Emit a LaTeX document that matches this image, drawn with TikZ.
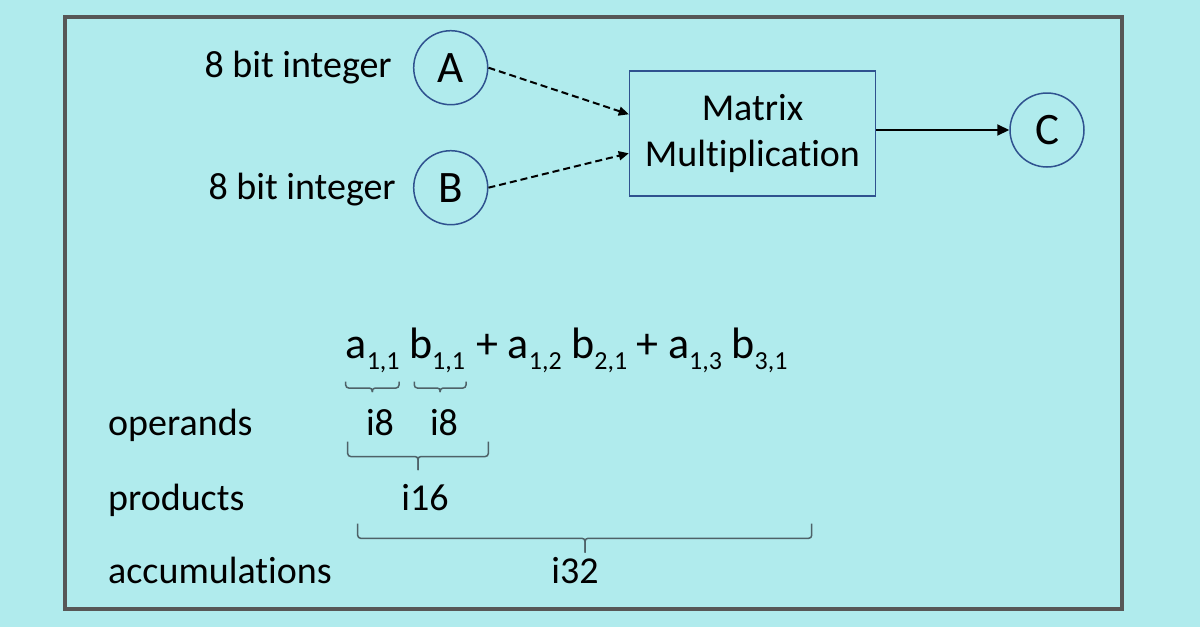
\documentclass[tikz,border=0pt]{standalone}
\usepackage{fontspec}
\setmainfont{Carlito}[Ligatures=NoCommon]
\usepackage{tikz}
\usetikzlibrary{positioning, arrows.meta}
\definecolor{bgcyan}{RGB}{176,235,237}
\definecolor{framegray}{RGB}{87,87,87}
\definecolor{edgeblue}{RGB}{47,82,143}
\definecolor{bracegray}{RGB}{78,98,104}
\newcommand{\sub}[1]{\raisebox{-11pt}{\fontsize{26}{26}\selectfont #1}}

\begin{document}
\begin{tikzpicture}[x=1pt, y=-1pt,
  lbl/.style={font=\fontsize{38}{44}\selectfont, inner sep=0pt},
  var/.style={circle, draw=edgeblue, line width=1.5pt, minimum size=74pt, inner sep=0pt, font=\fontsize{45}{45}\selectfont},
  eq/.style={font=\fontsize{44}{44}\selectfont, inner sep=0pt, anchor=base west},
  brc/.style={draw=bracegray, line width=1.5pt, rounded corners=3pt},
  feed/.style={line width=2pt, dash pattern=on 7pt off 4pt, -{Triangle[length=10pt,width=9pt]}},
  ]
  \fill[bgcyan] (0,0) rectangle (1200,627);
  \useasboundingbox (0,0) rectangle (1200,627);
  \draw[framegray, line width=4pt] (64.5,17) rectangle (1121.5,609);

  % inputs and the product
  \node[var] (A) at (450.7,67.7) {A};
  \node[var] (B) at (450.7,187.7) {B};
  \node[draw=edgeblue, line width=1.5pt, minimum width=246pt, minimum height=125pt,
        align=center, font=\fontsize{38}{46}\selectfont] (mm) at (752.5,133.3) {Matrix\\Multiplication};
  \node[var] (C) at (1047,130) {C};

  \node[lbl, left=21pt of A] (labA) {8 bit integer};
  \node[lbl, left=17pt of B, yshift=-2pt] (labB) {8 bit integer};

  \draw[feed] (A.east) -- ([yshift=19pt]mm.west);
  \draw[feed] (B.east) -- ([yshift=-20pt]mm.west);
  \draw[line width=2pt, -{Triangle[length=12pt,width=11pt]}] (mm.east |- C.west) -- (C.west);

  % the sum
  \node[eq] (a11) at (345.5,358) {a\sub{1,1}};
  \node[eq] (b11) at ([xshift=9pt]a11.base east) {b\sub{1,1}};
  \node[eq] (sum) at ([xshift=11pt]b11.base east)
    {+\hspace{9.5pt}a\sub{1,2}\hspace{9.5pt}b\sub{2,1}\hspace{9.5pt}+\hspace{9.5pt}a\sub{1,3}\hspace{9.5pt}b\sub{3,1}};

  % braces, each as two halves meeting at the tip
  \draw[brc] (345.7,381.7) -- (345.7,388) -- (372.3,388) -- (372.3,392);
  \draw[brc] (399,381.7) -- (399,388) -- (372.3,388) -- (372.3,392);
  \draw[brc] (414.3,381.7) -- (414.3,388) -- (440.2,388) -- (440.2,392);
  \draw[brc] (466,381.7) -- (466,388) -- (440.2,388) -- (440.2,392);
  \draw[brc] (347.7,441.7) -- (347.7,456.5) -- (418,456.5) -- (418,470);
  \draw[brc] (488.3,441.7) -- (488.3,456.5) -- (418,456.5) -- (418,470);
  \draw[brc] (357.7,523.5) -- (357.7,538.3) -- (585,538.3) -- (585,552.5);
  \draw[brc] (811.7,523.5) -- (811.7,538.3) -- (585,538.3) -- (585,552.5);

  \node[lbl, anchor=base] (i8a) at (380,435) {i8};
  \node[lbl, anchor=base] (i8b) at (444,435) {i8};
  \node[lbl, anchor=base] (i16) at (425,510) {i16};
  \node[lbl, anchor=base] (i32) at (575,583) {i32};

  \node[lbl, anchor=base west] (opnd) at (108,435) {operands};
  \node[lbl, anchor=base west] (prod) at (108,510) {products};
  \node[lbl, anchor=base west] (accu) at (108,583) {accumulations};
\end{tikzpicture}
\end{document}
